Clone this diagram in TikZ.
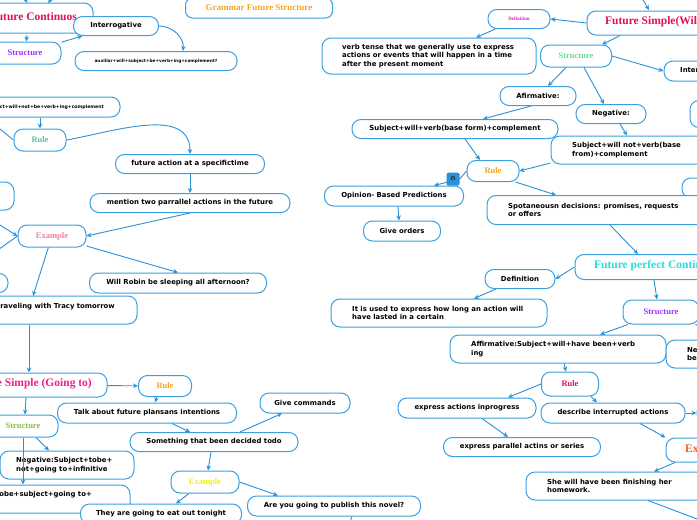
\documentclass[tikz,border=0pt]{standalone}
\usepackage{fontspec}
\setmainfont{Liberation Serif}
\newfontfamily\sansb{DejaVu Sans}
\usetikzlibrary{arrows.meta}
\definecolor{ln}{HTML}{2A90D8}
\definecolor{bd}{HTML}{3AA0E0}
\definecolor{crim}{HTML}{E0105A}
\definecolor{purp}{HTML}{9B30FF}
\definecolor{teal1}{HTML}{5CC0A0}
\definecolor{pink1}{HTML}{F080A0}
\definecolor{orng}{HTML}{F5A623}
\definecolor{grn}{HTML}{88C040}
\definecolor{ylw}{HTML}{EEEE20}
\definecolor{lgrn}{HTML}{60E090}
\definecolor{cyn}{HTML}{20E0E0}
\definecolor{mag}{HTML}{E020C0}
\definecolor{ored}{HTML}{F06020}
\definecolor{hotp}{HTML}{F0208A}
\tikzset{
 box/.style={draw=bd,line width=1pt,rounded corners=9pt,fill=white,inner sep=0pt,
   font=\sansb\bfseries\fontsize{6.9}{8.6}\selectfont},
 ttl/.style={box,font=\bfseries\fontsize{11.5}{13}\selectfont},
 sub/.style={box,font=\bfseries\fontsize{8.5}{10}\selectfont},
 lb/.style={inner sep=0pt,font=\sansb\bfseries\fontsize{6.9}{8.6}\selectfont,align=left},
 tl/.style={inner sep=0pt,font=\bfseries\fontsize{11.5}{13}\selectfont},
 ar/.style={draw=ln,line width=0.9pt,-{Stealth[length=5pt,width=4.5pt]}},
 pl/.style={draw=ln,line width=0.9pt},
}
\newcommand{\bx}[7]{\node[#1,minimum width=#4pt,minimum height=#5pt,#6] (#2) at (#3) {#7};}
\begin{document}
\begin{tikzpicture}[x=1pt,y=-1pt]
\useasboundingbox[fill=white] (0,0) rectangle (697,520);
% ---------- left: future continuous
\bx{ttl}{ftc}{31,18}{124}{30}{}{}
\node[tl,text=crim,anchor=east] (ftct) at (77,17) {Future Continuos};
\bx{sub,text=purp}{st1}{25,53}{72}{22}{}{Structure}
\bx{box}{in1}{116,26}{85}{19}{}{Interrogative}
\bx{box,font=\sansb\bfseries\fontsize{4.3}{5}\selectfont}{aux1}{156,61}{162}{19}{}{auxiliar+will+subject+be+verb+ing+complement?}
\bx{box}{ng1}{35,107}{170}{20}{}{}
\node[lb,font=\sansb\bfseries\fontsize{4.6}{5}\selectfont,anchor=east] (ng1t) at (104,107) {Negative:Subject+will+not+be+verb+ing+complement};
\bx{sub,text=teal1}{ru1}{40,140}{52}{22}{}{Rule}
\bx{box}{fa1}{190,164}{149}{19}{}{future action at a specifictime}
\bx{box}{me1}{190,203}{200}{19}{}{mention two parrallel actions in the future}
\bx{box}{pl1}{-13,196}{54}{28}{}{}
\bx{sub,text=pink1}{ex1}{52,236}{68}{22}{}{Example}
\bx{box}{pl2}{-11,283}{38}{19}{}{}
\bx{box}{wr1}{178,283}{177}{20}{}{Will Robin be sleeping all afternoon?}
\bx{box}{tr1}{39,310}{196}{28}{}{}
\node[lb,anchor=east] (tr1t) at (115,307) {She is traveling with Tracy tomorrow};
\coordinate (c1) at (25,-2); \coordinate (c2) at (52,-2);
\coordinate (c3) at (-5,125); \coordinate (c4) at (-5,222); \coordinate (c5) at (-5,252);
\draw[ar] (c1) -- (27,3); \draw[ar] (c2) -- (48,3);
\draw[ar] (27,35) -- (st1);
\draw[ar] (st1) -- (in1);
\draw[ar] (in1.east) to[out=0,in=85] (aux1.north -| 183,0);
\draw[ar] (ng1.south -| ru1) -- (ru1);
\draw[pl] (c3) -- (ru1.west);
\draw[ar] (ru1.east) to[out=10,in=90] (fa1.north);
\draw[ar] (fa1) -- (me1);
\draw[ar] (me1.south) -- (ex1.east);
\draw[ar] (c4) -- (ex1.west);
\draw[pl] (c5) -- (ex1.west);
\draw[ar] (ex1) -- (wr1.north);
\draw[ar] (ex1) -- (33,296);
% ---------- going to
\bx{ttl}{gt}{23,385}{168}{24}{}{}
\node[tl,text=hotp,anchor=east] (gtt) at (92,384) {Future Simple (Going to)};
\bx{sub,text=orng}{ru2}{165,386}{53}{21}{}{Rule}
\bx{box}{ta2}{147,413}{179}{20}{}{Talk about future plansans intentions}
\bx{box}{gc2}{305,403}{90}{20}{}{Give commands}
\bx{box}{so2}{214,442}{168}{19}{}{Something that been decided todo}
\bx{sub,text=grn}{st2}{23,426}{70}{22}{}{Structure}
\bx{box}{ng2}{67,465}{134}{28}{}{}
\node[lb,anchor=west] (ng2t) at (16,465) {Negative:Subject+tobe+\\not+going to+infinitive};
\bx{box}{ir2}{35,499}{190}{28}{}{}
\node[lb,anchor=east] (ir2t) at (92,495) {Interrogative:Tobe+subject+going to+};
\bx{sub,text=ylw}{ex2}{205,482}{68}{22}{}{Example}
\bx{box}{eo2}{161,514}{161}{20}{}{They are going to eat out tonight}
\bx{box}{pu2}{334,506}{173}{20}{}{Are you going to publish this novel?}
\coordinate (c6) at (350,522); \coordinate (c7) at (-5,448);
\draw[ar] (tr1.south -| 29,0) -- (gt.north -| 29,0);
\draw[ar] (gt) -- (ru2);
\draw[ar] (ru2.south -| 157,0) -- (ta2.north -| 155,0);
\draw[ar] (ta2.south -| 172,0) -- (so2.north -| 190,0);
\draw[ar] (so2.north -| 240,0) -- (gc2.south -| 282,0);
\draw[ar] (so2.south -| 211,0) -- (ex2.north -| 208,0);
\draw[ar] (ex2.south -| 189,0) -- (eo2.north -| 176,0);
\draw[ar] (ex2.east) -- (pu2.north -| 278,0);
\draw[pl] (pu2.south -| 352,0) -- (c6);
\draw[ar] (gt.south -| 26,0) -- (st2.north -| 25,0);
\draw[ar] (st2.south -| 36,0) -- (ng2.north -| 49,0);
\draw[ar] (st2.south -| 23,0) -- (ir2.north -| 23,0);
\draw[pl] (st2.south west) ++(6,0) -- (c7);
% ---------- title
\bx{box,font=\bfseries\fontsize{9}{11}\selectfont,text=orng,rounded corners=7pt}{gfs}{259,8}{147}{20}{}{Grammar Future Structure}
% ---------- right: future simple will
\bx{ttl}{fsw}{660,23}{146}{24}{}{}
\node[tl,text=crim,anchor=west] (fswt) at (605,22) {Future Simple(Will)};
\bx{box,font=\bfseries\fontsize{5}{6}\selectfont,text=mag}{df3}{519,19}{62}{19}{}{Definition}
\bx{box}{vt3}{429,56}{214}{36}{}{}
\node[lb,anchor=west] (vt3t) at (342,56) {verb tense that we generally use to express\\actions or events that will happen in a time\\after the present moment};
\bx{sub,text=lgrn}{st3}{576,56}{71}{22}{}{Structure}
\bx{box}{in3}{700,71}{72}{20}{}{}
\node[lb,anchor=west] (in3t) at (680,71) {Interrogative};
\bx{box}{af3}{538,96}{76}{19}{}{Afirmative:}
\bx{box}{ne3}{611,114}{70}{19}{}{Negative:}
\bx{box}{pc3}{715,114}{50}{27}{}{}
\bx{box}{sw3}{455,129}{206}{19}{}{Subject+will+verb(base form)+complement}
\bx{box}{sn3}{640,150}{178}{28}{}{}
\node[lb,anchor=west] (sn3t) at (572,150) {Subject+will not+verb(base\\from)+complement};
\bx{sub,text=orng}{ru3}{493,171}{52}{21}{}{Rule}
\bx{box}{op3}{394,196}{139}{20}{}{Opinion- Based Predictions}
\bx{box}{go3}{402,231}{77}{20}{}{Give orders}
\bx{box}{pd3}{705,188}{46}{20}{}{}
\bx{box}{sp3}{600,210}{226}{29}{}{}
\node[lb,anchor=west] (sp3t) at (508,210) {Spotaneousn decisions: promises, requests\\or offers};
\node[fill=ln,rounded corners=1.5pt,minimum size=13pt,inner sep=0pt,text=black!80,font=\sansb\bfseries\fontsize{7}{8}\selectfont] (bdg) at (453,179) {0};
\coordinate (c8) at (642,-2);
\draw[ar] (c8) -- (649,10);
\draw[ar] (fsw.west) -- (df3.east);
\draw[ar] (df3.south west) ++(8,0) -- (vt3.north -| 476,0);
\draw[ar] (fsw.south -| 620,0) -- (st3.north -| 602,0);
\draw[ar] (st3.east) -- (in3.west);
\draw[ar] (st3.south -| 566,0) -- (af3.north -| 548,0);
\draw[ar] (st3.south -| 584,0) -- (ne3.north -| 604,0);
\draw[ar] (af3.south -| 531,0) -- (sw3.north -| 483,0);
\draw[ar] (ne3.south -| 620,0) -- (sn3.north -| 627,0);
\draw[ar] (sw3.south -| 465,0) -- (ru3.north -| 480,0);
\draw[ar] (sn3.west |- 0,163) -- (ru3.east);
\draw[ar] (ru3.west) -- (bdg.east) -- (op3.north -| 434,0);
\draw[ar] (op3.south -| 398,0) -- (go3.north -| 399,0);
\draw[ar] (ru3.south east) ++(-4,0) -- (sp3.north -| 556,0);
% ---------- future perfect continuous
\bx{ttl}{fpc}{650,267}{150}{25}{}{}
\node[tl,text=cyn,anchor=west] (fpct) at (594,266) {Future perfect Continuous};
\bx{box}{df4}{520,279}{70}{19}{}{Definition}
\bx{box}{it4}{439,313}{216}{28}{}{}
\node[lb,anchor=west] (it4t) at (352,313) {It is used to express how long an action will\\have lasted in a certain};
\bx{sub,text=purp}{st4}{661,312}{76}{24}{}{Structure}
\bx{box}{af4}{558,349}{216}{28}{}{}
\node[lb,anchor=west] (af4t) at (471,349) {Affirmative:Subject+will+have been+verb\\ing};
\bx{box}{ng4}{700,354}{68}{28}{}{}
\node[lb,anchor=west] (ng4t) at (687,354) {Negative:\\be};
\bx{sub,text=crim}{ru4}{570,384}{57}{24}{}{Rule}
\bx{box}{ei4}{467,408}{138}{20}{}{express actions inprogress}
\bx{box}{de4}{613,413}{144}{20}{}{describe interrupted actions}
\bx{box}{pr4}{712,413}{30}{19}{}{}
\bx{box}{pa4}{522,447}{157}{19}{}{express parallel actins or series}
\bx{ttl}{ex4}{700,450}{68}{24}{}{}
\node[tl,text=ored,anchor=west] (ex4t) at (685,450) {Example};
\bx{box}{sh4}{630,486}{208}{28}{}{}
\node[lb,anchor=west] (sh4t) at (547,486) {She will have been finishing her\\homework.};
\coordinate (c9) at (705,522); \coordinate (c10) at (700,327);
\draw[ar] (sp3.south -| 610,0) -- (fpc.north -| 638,0);
\draw[ar] (fpc.west) -- (df4.east);
\draw[ar] (df4.south -| 496,0) -- (it4.north -| 474,0);
\draw[ar] (fpc.south -| 654,0) -- (st4.north -| 657,0);
\draw[ar] (st4.south -| 628,0) -- (af4.north -| 600,0);
\draw[pl] (st4.south east) ++(-4,0) -- (c10);
\draw[ar] (af4.south -| 564,0) -- (ru4.north -| 566,0);
\draw[ar] (ru4.west) -- (ei4.north -| 508,0);
\draw[ar] (ru4.south east) ++(-8,0) -- (de4.north -| 597,0);
\draw[ar] (ei4.south -| 482,0) -- (pa4.north -| 508,0);
\draw[ar] (de4.east) -- (pr4.west);
\draw[ar] (de4.south -| 640,0) -- (ex4.north west);
\draw[ar] (ex4.south -| 675,0) -- (sh4.north -| 654,0);
\draw[pl] (sh4.south -| 648,0) -- (c9);
\end{tikzpicture}
\end{document}
